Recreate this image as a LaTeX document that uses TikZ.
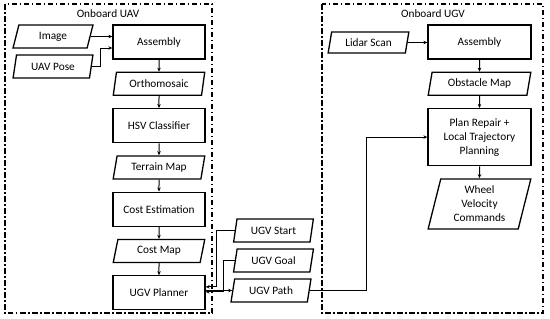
\documentclass[tikz,border=0pt]{standalone}
\usepackage{fontspec}
\setmainfont{Carlito}
\usetikzlibrary{positioning,arrows.meta,shapes.geometric}

\begin{document}
\begin{tikzpicture}[
  x=1pt, y=-1pt,
  font=\fontsize{11.3}{14}\selectfont,
  proc/.style={rectangle, draw, line width=1.3pt, minimum height=34pt, inner sep=2pt, align=center},
  data/.style={trapezium, trapezium left angle=77, trapezium right angle=103, trapezium stretches=true,
    draw, line width=1.3pt, minimum height=23pt, inner sep=1pt, align=center},
  arr/.style={-{Stealth[length=4pt,width=3.5pt]}, line width=1pt},
  frame/.style={draw, line width=1.1pt, dash pattern=on 5.5pt off 2.5pt on 1.5pt off 2.5pt}
]
\useasboundingbox (0,0) rectangle (550,319);
% onboard UAV: map building and global planning
\draw[frame] (5,4) rectangle (212,313);
\node (uavlbl) at (108,14) {Onboard UAV};
\node[proc, minimum width=92pt] (uasm) at (159,42) {Assembly};
\node[data, minimum width=92pt, below=12pt of uasm] (ortho) {Orthomosaic};
\node[proc, minimum width=92pt, below=12pt of ortho] (hsv) {HSV Classifier};
\node[data, minimum width=92pt, below=12pt of hsv] (terrain) {Terrain Map};
\node[proc, minimum width=92pt, below=12pt of terrain] (costest) {Cost Estimation};
\node[data, minimum width=92pt, below=12pt of costest] (costmap) {Cost Map};
\node[proc, minimum width=92pt, below=12pt of costmap] (planner) {UGV Planner};
\node[data, minimum width=80pt] (img) at (53,36.5) {Image};
\node[data, minimum width=80pt] (upose) at (53,66.5) {UAV Pose};
\draw[arr] (img.east) -- (img.east -| uasm.west);
\draw[arr] (upose.east) -- ++(9,0) |- ([yshift=-6pt]uasm.west);
\draw[arr] (uasm) -- (ortho); \draw[arr] (ortho) -- (hsv); \draw[arr] (hsv) -- (terrain);
\draw[arr] (terrain) -- (costest); \draw[arr] (costest) -- (costmap); \draw[arr] (costmap) -- (planner);
% planner inputs and output between the two boxes
\node[data, minimum width=80pt] (ustart) at (273.5,230.5) {UGV Start};
\node[data, minimum width=80pt] (ugoal) at (273.5,260.5) {UGV Goal};
\node[data, minimum width=80pt] (upath) at (271,290.5) {UGV Path};
\draw[arr] (ustart.west) -- ++(-18,0) |- ([yshift=6pt]planner.east);
\draw[arr] (ugoal.west) -- ++(-11,0) |- ([yshift=1pt]planner.east);
\draw[arr] (planner.east |- upath.west) -- (upath.west);
% onboard UGV: local planning
\draw[frame] (322,4) rectangle (543,313);
\node (ugvlbl) at (433,14) {Onboard UGV};
\node[proc, minimum width=103pt] (gasm) at (479.5,42) {Assembly};
\node[data, minimum width=103pt, below=12pt of gasm] (obst) {Obstacle Map};
\node[proc, minimum width=103pt, minimum height=57pt, below=12pt of obst] (repair) {Plan Repair +\\Local Trajectory\\Planning};
\node[data, minimum width=103pt, minimum height=50pt, below=12pt of repair] (wheel) {Wheel\\Velocity\\Commands};
\node[data, minimum width=81pt, minimum height=21pt] (lidar) at (368.5,42.5) {Lidar Scan};
\draw[arr] (lidar.east) -- (lidar.east -| gasm.west);
\draw[arr] (gasm) -- (obst); \draw[arr] (obst) -- (repair); \draw[arr] (repair) -- (wheel);
\draw[arr] (upath.east) -- ++(57,0) |- (repair.west);
\end{tikzpicture}
\end{document}
